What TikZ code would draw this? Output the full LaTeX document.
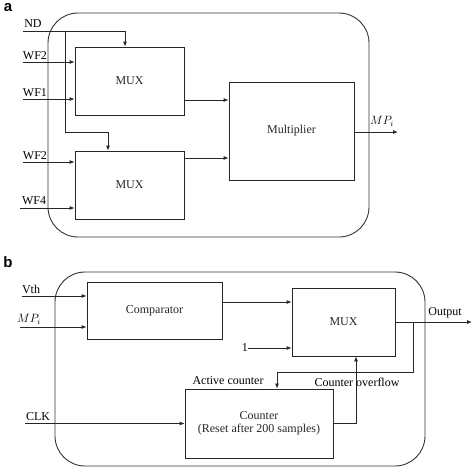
\documentclass[tikz,border=0pt]{standalone}
\usepackage{fontspec}
\setmainfont{Liberation Serif}
\newfontfamily\lblfont{Liberation Sans}
\usetikzlibrary{arrows.meta,calc}
\tikzset{
  x=1pt,y=1pt,
  line/.style={line width=0.8pt,black!85},
  arr/.style={line, -{Latex[length=5pt,width=4pt]}},
  box/.style={draw,line width=0.8pt,black!85,rectangle,inner sep=0pt,font=\fontsize{12}{14}\selectfont},
  frame/.style={draw,line width=0.9pt,black!80,rounded corners=30pt,inner sep=0pt},
  txt/.style={inner sep=0pt,font=\fontsize{12}{14}\selectfont},
  panel/.style={inner sep=0pt,font=\lblfont\bfseries\fontsize{15}{17}\selectfont}
}
\begin{document}
\begin{tikzpicture}
\useasboundingbox (0,0) rectangle (474,-467);
% ---------------- panel a
\node[panel] (la) at (8,-8) {a};
\node[frame,minimum width=321pt,minimum height=224pt] (frameA) at (208.5,-125) {};
\node[box,minimum width=109pt,minimum height=68pt] (mux1) at (129.5,-81) {MUX};
\node[box,minimum width=109pt,minimum height=68pt] (mux2) at (129.5,-185) {MUX};
\node[box,minimum width=125pt,minimum height=98pt] (mult) at (291.5,-131) {Multiplier};
% ND
\node[txt] (nd) at (33,-24) {ND};
\coordinate (ndS) at (23,-31);
\coordinate (j1) at (65,-31);
\coordinate (ndE) at (125,-31);
\draw[arr] (ndS) -- (ndE) -- (ndE |- mux1.north);
\coordinate (b1) at (108,-132);
\draw[arr] (j1) |- (b1) -- (b1 |- mux2.north);
% WF inputs
\node[txt] (wf2a) at (35,-56) {WF2};
\coordinate (wf2aS) at (23,-62);
\draw[arr] (wf2aS) -- (wf2aS -| mux1.west);
\node[txt] (wf1) at (35,-93) {WF1};
\coordinate (wf1S) at (23,-99);
\draw[arr] (wf1S) -- (wf1S -| mux1.west);
\node[txt] (wf2b) at (35,-156) {WF2};
\coordinate (wf2bS) at (23,-162);
\draw[arr] (wf2bS) -- (wf2bS -| mux2.west);
\node[txt] (wf4) at (34,-201) {WF4};
\coordinate (wf4S) at (20,-208);
\draw[arr] (wf4S) -- (wf4S -| mux2.west);
% mux to multiplier
\coordinate (m1o) at (184,-100);
\draw[arr] (m1o) -- (m1o -| mult.west);
\coordinate (m2o) at (184,-158);
\draw[arr] (m2o) -- (m2o -| mult.west);
% output
\coordinate (mpo) at (398,-132);
\draw[arr] (mpo -| mult.east) -- (mpo);
\node[txt] (mpl) at (382,-121) {$MP_i$};
% ---------------- panel b
\node[panel] (lb) at (8,-262) {b};
\node[frame,minimum width=370pt,minimum height=194pt] (frameB) at (240,-369) {};
\node[box,minimum width=135pt,minimum height=57pt] (cmp) at (154.5,-310.5) {Comparator};
\node[box,minimum width=103pt,minimum height=68pt] (muxb) at (343.5,-322) {MUX};
\node[box,minimum width=148pt,minimum height=69pt,align=center] (cnt) at (259,-423.5) {Counter\\[-1pt](Reset after 200 samples)};
% inputs
\node[txt] (vth) at (31,-289) {Vth};
\coordinate (vthS) at (22,-296);
\draw[arr] (vthS) -- (vthS -| cmp.west);
\node[txt] (mpb) at (29,-319) {$MP_i$};
\coordinate (mpbS) at (20,-327);
\draw[arr] (mpbS) -- (mpbS -| cmp.west);
\node[txt] (clk) at (38,-417) {CLK};
\coordinate (clkS) at (25,-423.5);
\draw[arr] (clkS) -- (cnt.west);
% comparator -> mux
\coordinate (co) at (222,-302);
\draw[arr] (co) -- (co -| muxb.west);
\node[txt,anchor=east] (one) at (248,-348) {1};
\draw[arr] (one.east) -- (one.east -| muxb.west);
% output
\coordinate (outE) at (472,-322);
\draw[arr] (muxb.east) -- (outE);
\node[txt] (outl) at (445,-313) {Output};
% feedback
\coordinate (fb) at (413,-322);
\coordinate (fb2) at (277,-372);
\draw[arr] (fb) |- (fb2) -- (fb2 |- cnt.north);
\node[txt] (act) at (228,-381) {Active counter};
% overflow
\coordinate (ov) at (356,-423.5);
\draw[arr] (cnt.east) -- (ov) -- (ov |- muxb.south);
\node[txt] (ovl) at (357,-382) {Counter overflow};
\end{tikzpicture}
\end{document}
